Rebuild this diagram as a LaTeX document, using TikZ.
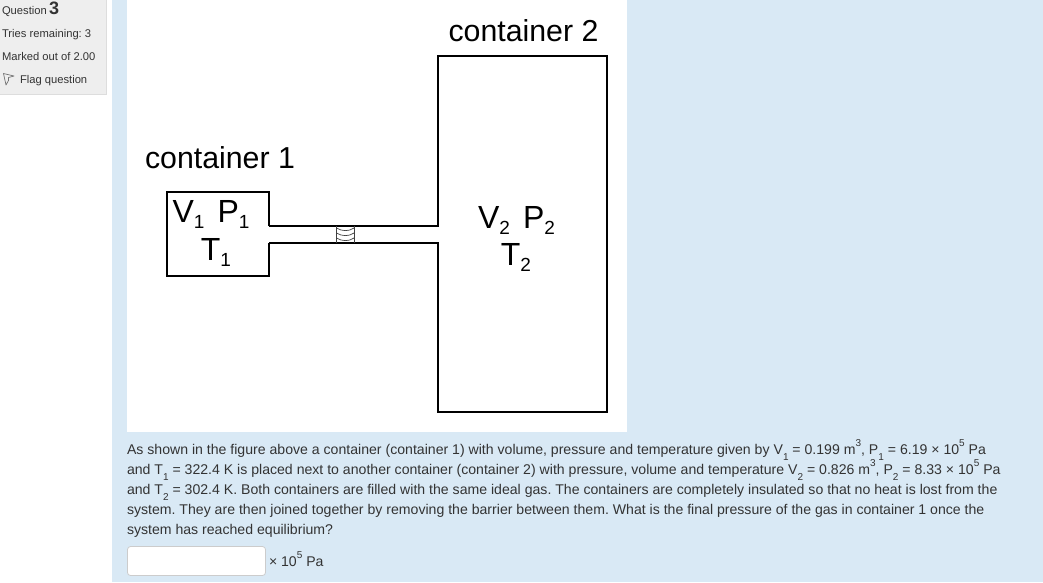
\documentclass[tikz,border=0pt]{standalone}
\usepackage{fontspec}
\setmainfont{Liberation Sans}
\frenchspacing
\definecolor{pagebl}{HTML}{D9E9F5}
\definecolor{sidegr}{HTML}{EEEEEE}
\definecolor{sideln}{HTML}{DDDDDD}
\definecolor{txt}{HTML}{333333}
\newcommand{\fsz}[1]{\fontsize{#1}{#1}\selectfont}
\newcommand{\dn}[1]{\raisebox{-6pt}{\fsz{10}#1}}
\newcommand{\up}[1]{\raisebox{7.5pt}{\fsz{10}#1}}
\newcommand{\bigsub}[1]{\raisebox{-6pt}{\fsz{19}#1}}
\tikzset{
  x=1pt,y=-1pt,
  body/.style={anchor=base west,inner sep=0pt,outer sep=0pt,text=txt,font=\fsz{14.1}},
  side/.style={anchor=base west,inner sep=0pt,outer sep=0pt,text=txt,font=\fsz{11.2}},
  biglabel/.style={anchor=base,inner sep=0pt,outer sep=0pt,text=black,font=\fsz{30.3}},
  gaslabel/.style={anchor=base,inner sep=0pt,outer sep=0pt,text=black,font=\fsz{32}},
  wall/.style={draw=black,line width=1.6pt,line join=miter},
  thinwall/.style={draw=black!75,line width=0.7pt},
}
\begin{document}
\begin{tikzpicture}
\useasboundingbox (0,0) rectangle (1043,582);
\fill[white] (0,0) rectangle (1043,582);
\fill[pagebl] (112,0) rectangle (1043,582);
\fill[white] (127,0) rectangle (627,432);
\filldraw[fill=sidegr,draw=sideln,line width=0.7pt] (-2,-2) rectangle (106.5,94);
% sidebar
\node[side] (q) at (2,14) {Question};
\node[anchor=base west,inner sep=0pt,text=txt,font=\fsz{18}\bfseries] (qn) at (49,14) {3};
\node[side] (tr) at (2,37) {Tries remaining: 3};
\node[side] (mk) at (2,60) {Marked out of 2.00};
\node[side] (fl) at (20,83) {Flag question};
\draw[draw=black!55,line width=0.7pt,line join=round] (6,85) -- (3.5,73.5) -- (14,76) -- (8.5,77.5) -- (8.5,80.5) -- cycle;
% figure
\node[biglabel] (l2) at (523.5,41.5) {container 2};
\node[biglabel] (l1) at (220,168) {container 1};
\draw[wall] (269,226) -- (269,192) -- (167,192) -- (167,276) -- (269,276) -- (269,243);
\draw[wall] (269,226) -- (438,226) -- (438,56) -- (607,56) -- (607,412) -- (438,412) -- (438,243) -- (269,243);
\draw[thinwall] (336.5,226) -- (336.5,243) (354,226) -- (354,243);
\foreach \yy in {228,233,238}
  \draw[thinwall] (336.5,\yy) .. controls (342,\yy+3.5) and (349,\yy+3.5) .. (354,\yy);
\node[gaslabel] (v1) at (211,222) {V\bigsub{1}\hspace{13pt}P\bigsub{1}};
\node[gaslabel] (t1) at (216,260) {T\bigsub{1}};
\node[gaslabel] (v2) at (516.5,228) {V\bigsub{2}\hspace{13pt}P\bigsub{2}};
\node[gaslabel] (t2) at (516,265) {T\bigsub{2}};
% question text
\node[body] (a) at (127,454) {As shown in the figure above a container (container 1) with volume, pressure and temperature given by V\dn{1} = 0.199 m\up{3}, P\dn{1} = 6.19 × 10\up{5} Pa};
\node[body] (b) at (127,474) {and T\dn{1} = 322.4 K is placed next to another container (container 2) with pressure, volume and temperature V\dn{2} = 0.826 m\up{3}, P\dn{2} = 8.33 × 10\up{5} Pa};
\node[body] (c) at (127,494) {and T\dn{2} = 302.4 K. Both containers are filled with the same ideal gas. The containers are completely insulated so that no heat is lost from the};
\node[body] (d) at (127,514) {system. They are then joined together by removing the barrier between them. What is the final pressure of the gas in container 1 once the};
\node[body] (e) at (127,534) {system has reached equilibrium?};
\draw[draw=black!20,fill=white,line width=0.8pt,rounded corners=3pt] (127.5,546.5) rectangle (265.5,575.5);
\node[body] (u) at (269,566) {× 10\up{5} Pa};
\end{tikzpicture}
\end{document}
